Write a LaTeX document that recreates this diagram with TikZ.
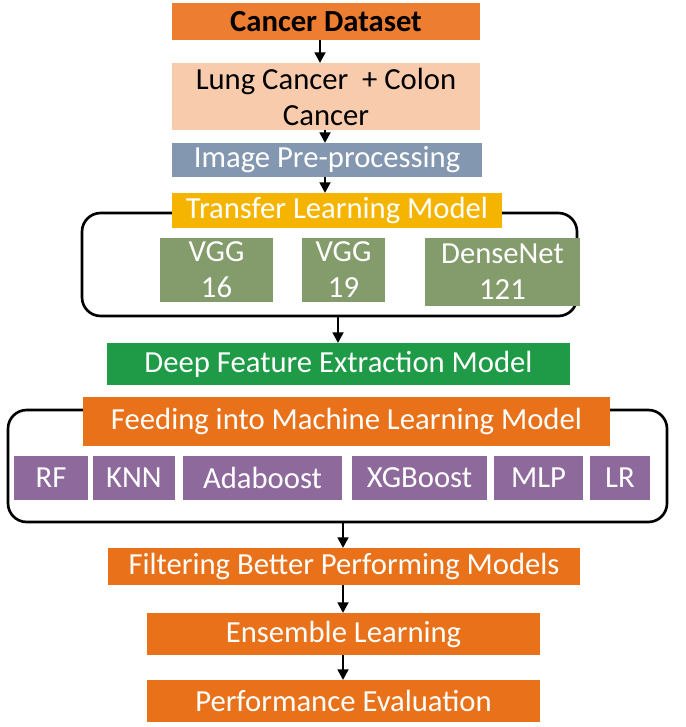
\documentclass[tikz,border=0pt]{standalone}
\usepackage{fontspec}
\setmainfont{Carlito}
\usetikzlibrary{arrows.meta}
\definecolor{org}{HTML}{ED7D31}
\definecolor{org2}{HTML}{E8711A}
\definecolor{peach}{HTML}{F8CBAD}
\definecolor{slate}{HTML}{8497B0}
\definecolor{gold}{HTML}{F4B400}
\definecolor{sage}{HTML}{849B6B}
\definecolor{grn}{HTML}{1F9B48}
\definecolor{purp}{HTML}{8E6A9C}
\begin{document}
\begin{tikzpicture}[x=0.75pt,y=-0.75pt,
  box/.style={inner sep=0pt,text=white,font=\fontsize{23}{27}\selectfont,align=center},
  frame/.style={draw=black,line width=2pt,rounded corners=14pt},
  arr/.style={-{Triangle[length=8pt,width=8pt]},line width=2pt}]
\useasboundingbox (0,0) rectangle (685,727);
\draw[frame] (82,213) rectangle (577,316);
\draw[frame] (8,410) rectangle (667,522);
\fill[org] (172,3) rectangle (480,40);
\node[box,text=black,font=\fontsize{23}{27}\selectfont\bfseries] (cd) at (326,21.5) {Cancer Dataset};
\fill[peach] (172,63) rectangle (480,130);
\node[box,text=black] (lc) at (326,96.5) {Lung Cancer \ + Colon\\Cancer};
\fill[slate] (172,143) rectangle (482,177);
\node[box] (ip) at (327,160) {Image Pre-processing};
\fill[gold] (172,193) rectangle (502,228);
\node[box] (tl) at (337,210.5) {Transfer Learning Model};
\fill[sage] (160,238) rectangle (273,302);
\node[box] (v16) at (216.5,270) {VGG\\16};
\fill[sage] (302,238) rectangle (385,302);
\node[box] (v19) at (343.5,270) {VGG\\19};
\fill[sage] (425,238) rectangle (580,306);
\node[box] (dn) at (502.5,272) {DenseNet\\121};
\coordinate (f1) at (338,316);
\fill[grn] (107,343) rectangle (570,385);
\node[box] (df) at (338.5,364) {Deep Feature Extraction Model};
\fill[org2] (83,397) rectangle (610,446);
\node[box] (fm) at (346.5,421.5) {Feeding into Machine Learning Model};
\foreach \n/\a/\b/\t in {rf/14/88/RF,knn/93/175/KNN,ada/183/342/Adaboost,xgb/352/487/XGBoost,mlp/494/583/MLP,lr/590/650/LR}{
  \fill[purp] (\a,456) rectangle (\b,500);
  \node[box] (\n) at ({(\a+\b)/2},478) {\t};}
\coordinate (f2) at (343,522);
\fill[org2] (108,548) rectangle (580,585);
\node[box] (fb) at (344,566.5) {Filtering Better Performing Models};
\fill[org2] (147,613) rectangle (540,655);
\node[box] (el) at (343.5,634) {Ensemble Learning};
\fill[org2] (147,680) rectangle (540,722);
\node[box] (pe) at (343.5,701) {Performance Evaluation};
\draw[arr] (320,40) -- (320,63);
\draw[arr] (325,130) -- (325,143);
\draw[arr] (325,177) -- (325,193);
\draw[arr] (f1) -- (338,343);
\draw[arr] (f2) -- (343,548);
\draw[arr] (343,585) -- (343,613);
\draw[arr] (343,655) -- (343,680);
\end{tikzpicture}
\end{document}
